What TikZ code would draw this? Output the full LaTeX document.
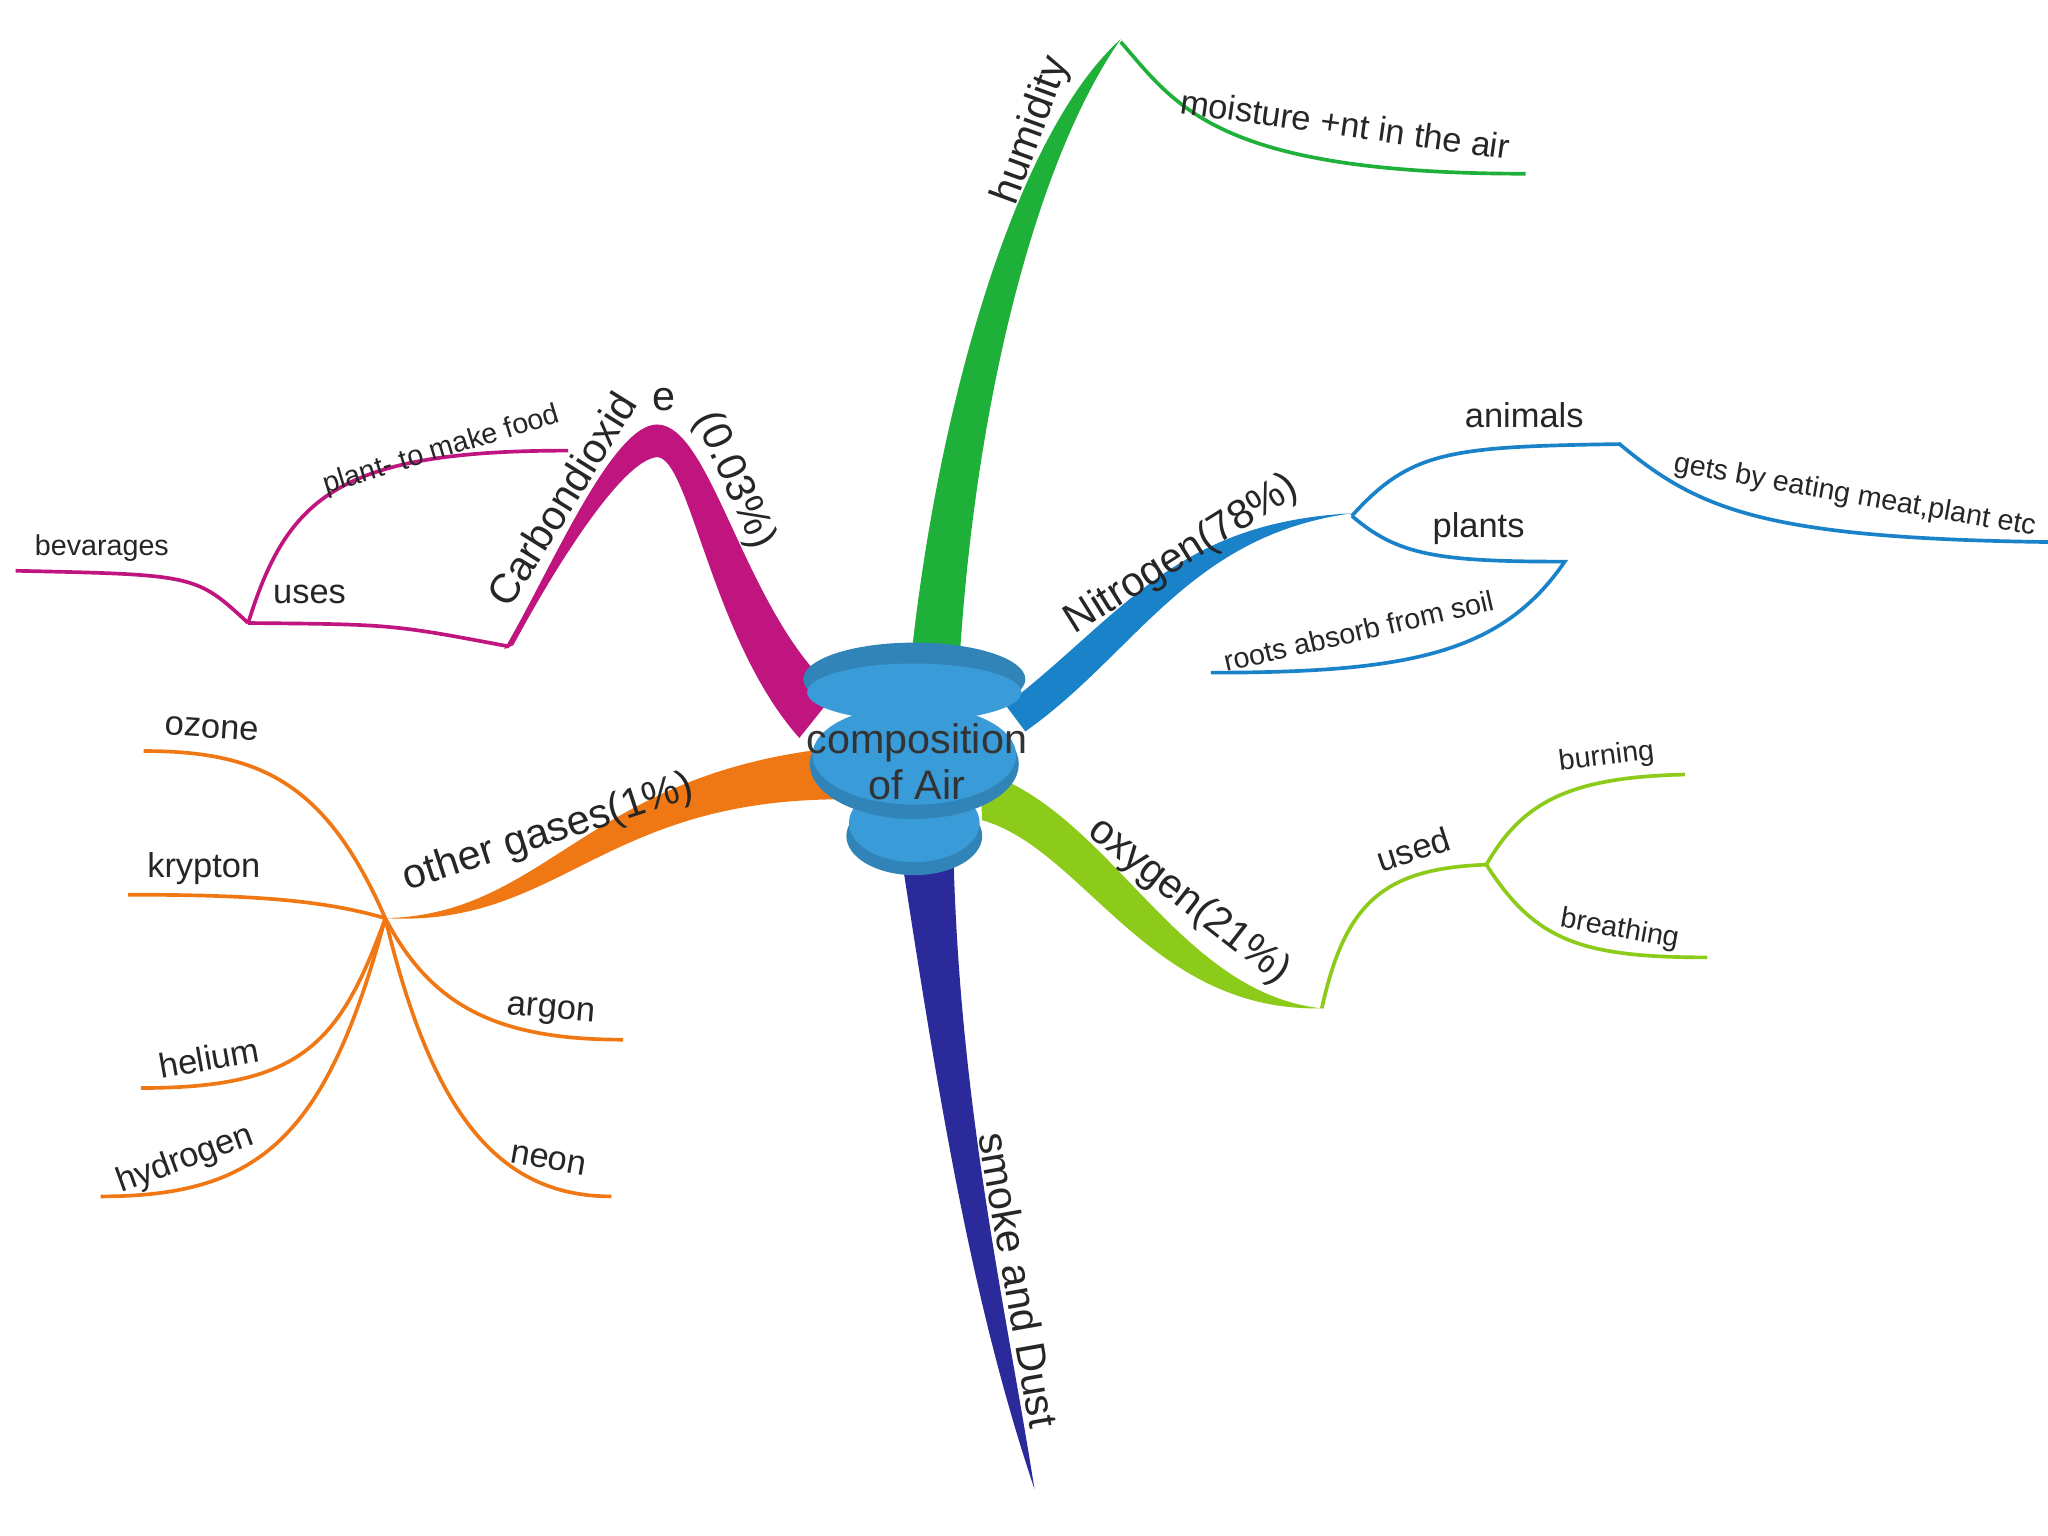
\documentclass[tikz,border=0pt]{standalone}
\usepackage{fontspec}
\setmainfont{Liberation Sans}
\begin{document}
\begin{tikzpicture}[x=0.02cm,y=-0.02cm,
 big/.style={font=\fontsize{18}{20}\selectfont,text=black!85},
 mid/.style={font=\fontsize{15}{17}\selectfont,text=black!85},
 sm/.style={font=\fontsize{12.5}{14}\selectfont,text=black!85},
 thin/.style={line width=1.6pt}]
\definecolor{cgreen}{HTML}{1FB03A}
\definecolor{cmag}{HTML}{C0147F}
\definecolor{cblue}{HTML}{1A82C8}
\definecolor{clg}{HTML}{8CCB1A}
\definecolor{cdb}{HTML}{2A2A9A}
\definecolor{corg}{HTML}{F07814}
\useasboundingbox[fill=white] (0,0) rectangle (1568,1176);
% humidity
\fill[cgreen] (698,500) .. controls (720,300) and (780,100) .. (858,30) .. controls (795,120) and (748,300) .. (735,500) -- cycle;
\draw[cgreen,thin] (858,32) .. controls (900,80) and (930,133) .. (1168,133);
\node[big,rotate=70] (hum) at (790,100) {humidity};
\node[mid,rotate=-8] (moist) at (1030,95) {moisture +nt in the air};
% CO2
\fill[cmag] (612,565) .. controls (545,490) and (528,350) .. (503,350) .. controls (478,352) and (430,425) .. (393,494) -- (386,497) .. controls (420,440) and (468,325) .. (503,325) .. controls (545,325) and (570,470) .. (640,530) -- cycle;
\draw[cmag,thin] (390,495) .. controls (300,478) .. (190,477);
\draw[cmag,thin] (190,477) .. controls (150,440) .. (12,437);
\draw[cmag,thin] (190,477) .. controls (220,380) and (260,345) .. (435,345);
\node[big,rotate=58] (co2a) at (430,382) {Carbondioxid};
\node[big] (co2b) at (508,306) {e};
\node[big,rotate=-66] (co2c) at (562,368) {(0.03\%)};
\node[mid] (uses) at (237,455) {uses};
\node[sm] (bev) at (78,420) {bevarages};
\node[sm,rotate=17] (plant) at (338,345) {plant- to make food};
% nitrogen
\fill[cblue] (770,540) .. controls (860,470) and (900,400) .. (1035,393) .. controls (910,410) and (870,500) .. (785,560) -- cycle;
\draw[cblue,thin] (1035,395) .. controls (1080,345) and (1110,342) .. (1240,340) .. controls (1300,390) and (1350,412) .. (1568,415);
\draw[cblue,thin] (1035,395) .. controls (1070,425) and (1100,430) .. (1198,430) .. controls (1150,500) and (1080,515) .. (927,515);
\node[big,rotate=32] (nit) at (905,425) {Nitrogen(78\%)};
\node[mid] (ani) at (1167,318) {animals};
\node[mid] (pla) at (1132,405) {plants};
\node[sm,rotate=-10] (gets) at (1420,380) {gets by eating meat,plant etc};
\node[sm,rotate=13] (roots) at (1040,483) {roots absorb from soil};
% oxygen
\fill[clg] (750,590) .. controls (850,620) and (900,760) .. (1012,772) .. controls (880,775) and (830,650) .. (752,628) -- cycle;
\draw[clg,thin] (1012,772) .. controls (1030,690) and (1060,665) .. (1138,662);
\draw[clg,thin] (1138,662) .. controls (1165,615) and (1200,595) .. (1290,593);
\draw[clg,thin] (1138,662) .. controls (1175,720) and (1210,733) .. (1307,733);
\node[big,rotate=-38] (oxy) at (910,690) {oxygen(21\%)};
\node[mid,rotate=18] (used) at (1082,650) {used};
\node[sm,rotate=7] (burn) at (1230,580) {burning};
\node[sm,rotate=-10] (brea) at (1240,712) {breathing};
% smoke
\fill[cdb] (690,655) .. controls (720,850) and (745,1000) .. (792,1140) .. controls (770,1000) and (735,850) .. (730,655) -- cycle;
\node[big,rotate=-80] (smoke) at (780,980) {smoke and Dust};
% other gases
\fill[corg] (645,572) .. controls (450,590) and (420,700) .. (295,703) .. controls (430,710) and (460,610) .. (650,612) -- cycle;
\node[big,rotate=18] (oth) at (420,638) {other gases(1\%)};
\draw[corg,thin] (295,703) .. controls (250,600) and (200,575) .. (110,575);
\draw[corg,thin] (295,703) .. controls (250,690) and (200,685) .. (98,685);
\draw[corg,thin] (295,703) .. controls (260,800) and (230,833) .. (108,833);
\draw[corg,thin] (295,703) .. controls (250,870) and (200,916) .. (77,916);
\draw[corg,thin] (295,703) .. controls (330,770) and (380,796) .. (477,796);
\draw[corg,thin] (295,703) .. controls (330,850) and (380,916) .. (468,916);
\node[mid,rotate=-4] (ozo) at (162,558) {ozone};
\node[mid] (kry) at (156,665) {krypton};
\node[mid,rotate=10] (hel) at (160,810) {helium};
\node[mid,rotate=20] (hyd) at (142,888) {hydrogen};
\node[mid,rotate=-5] (arg) at (422,775) {argon};
\node[mid,rotate=-10] (neo) at (420,888) {neon};
% center
\definecolor{cc}{HTML}{3A9BD9}
\fill[cc!85!black] (700,640) ellipse (52 and 30);
\fill[cc] (700,630) ellipse (50 and 30);
\fill[cc!85!black] (700,585) ellipse (80 and 42);
\fill[cc] (700,578) ellipse (78 and 38);
\fill[cc!85!black] (700,520) ellipse (85 and 28);
\fill[cc] (700,530) ellipse (82 and 22);
\node[big,align=center,text=black!80] (center) at (702,583) {composition\\of Air};
\end{tikzpicture}
\end{document}
